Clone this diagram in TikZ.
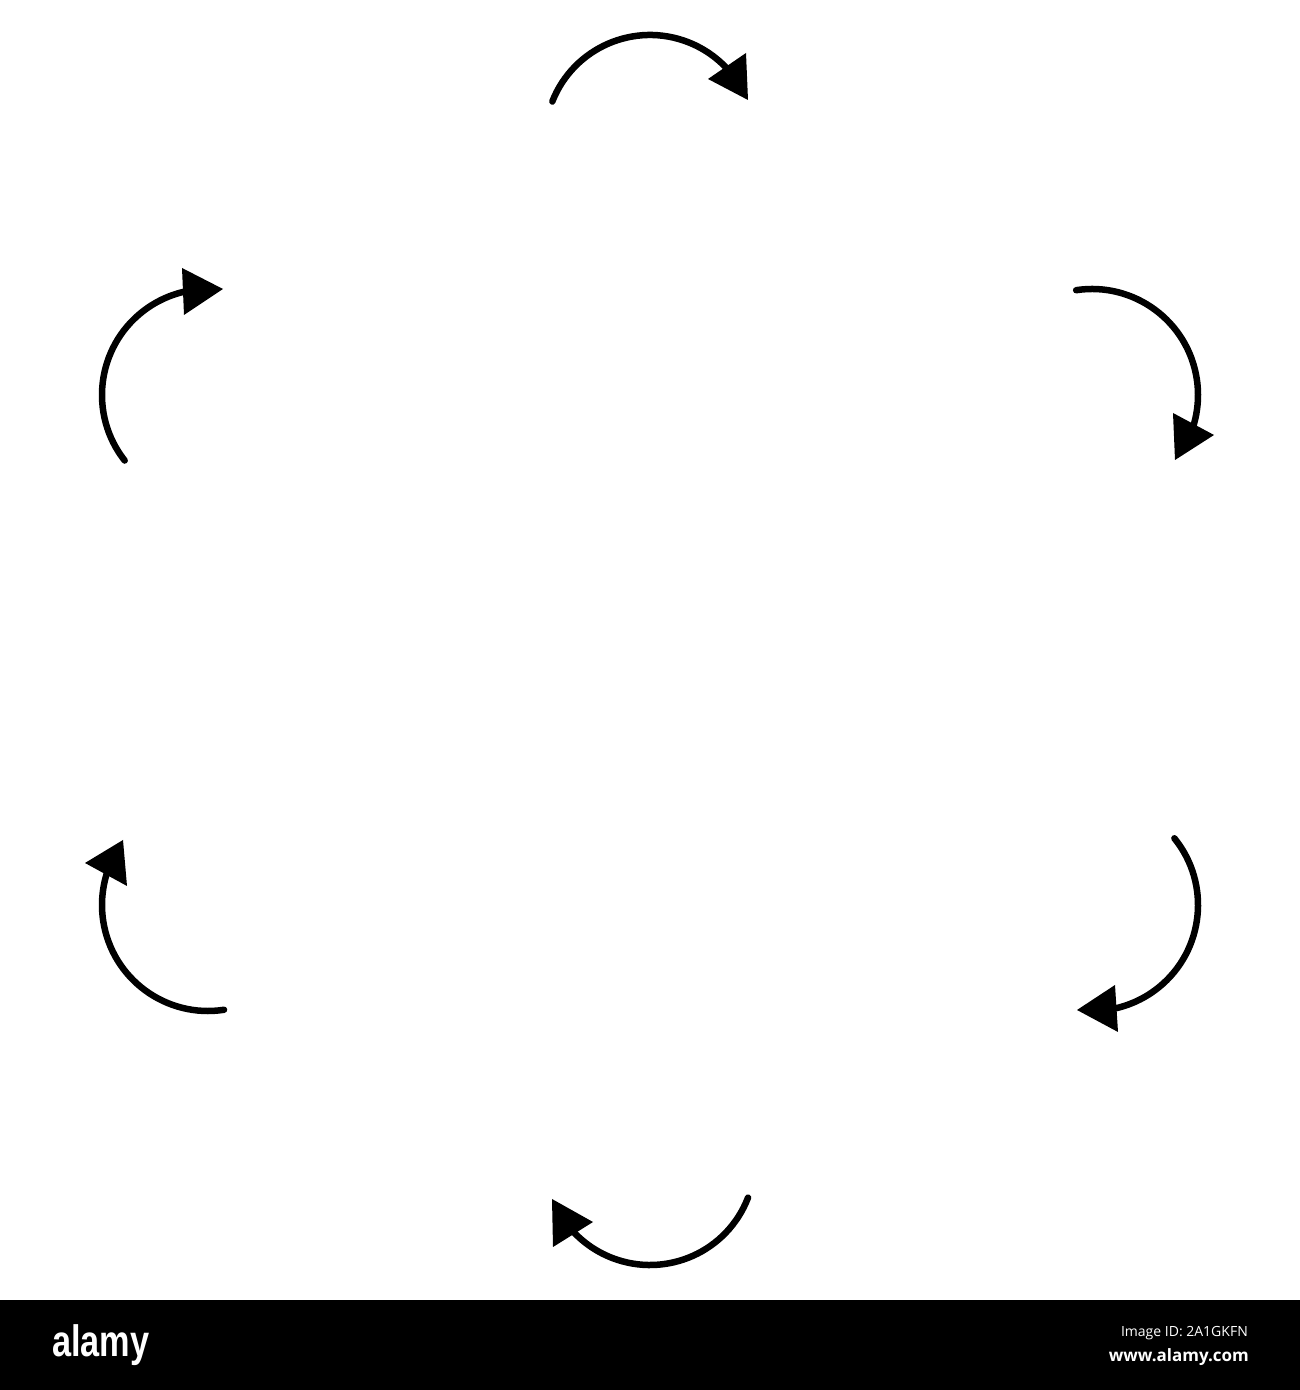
\documentclass[tikz,border=0pt]{standalone}
\usepackage{fontspec}
\newfontfamily\alamyfont[FakeStretch=0.78]{Liberation Sans}
\newfontfamily\idfont{Open Sans}
\begin{document}
\begin{tikzpicture}[x=1pt,y=1pt,
  arcline/.style={line width=6.5pt, line cap=round, black},
  head/.style={fill=black},
  bannertext/.style={text=white, inner sep=0pt}]
\useasboundingbox (0,0) rectangle (1300,1390);
\fill[white] (0,0) rectangle (1300,1390);
% arc centres
\coordinate (c1) at (650,1250);
\coordinate (c2) at (1092,995);
\coordinate (c3) at (1092,485);
\coordinate (c4) at (650,230);
\coordinate (c5) at (208,485);
\coordinate (c6) at (208,995);
% top
\draw[arcline] ([shift={(158.5:105)}]c1) arc[start angle=158.5, end angle=40, radius=105];
\fill[head] (746,1337) -- (748,1290) -- (708,1311) -- cycle;
% upper right
\draw[arcline] ([shift={(98.6:106)}]c2) arc[start angle=98.6, end angle=-25, radius=106];
\fill[head] (1173,977) -- (1175,930) -- (1214,955) -- cycle;
% lower right
\draw[arcline] ([shift={(39:106)}]c3) arc[start angle=39, end angle=-88, radius=106];
\fill[head] (1115,405) -- (1118,358) -- (1077,380) -- cycle;
% bottom
\draw[arcline] ([shift={(-21:105)}]c4) arc[start angle=-21, end angle=-140, radius=105];
\fill[head] (552,191) -- (553,143) -- (593,168) -- cycle;
% lower left
\draw[arcline] ([shift={(-81.3:106)}]c5) arc[start angle=-81.3, end angle=-205, radius=106];
\fill[head] (123,550) -- (127,504) -- (85,527) -- cycle;
% upper left
\draw[arcline] ([shift={(218.2:106)}]c6) arc[start angle=218.2, end angle=95, radius=106];
\fill[head] (182,1122) -- (184,1075) -- (223,1101) -- cycle;
% banner
\fill[black] (0,0) rectangle (1300,90);
\node[bannertext, anchor=base west] (logo) at (52,33) {\alamyfont\bfseries\fontsize{44}{44}\selectfont alamy};
\node[bannertext, anchor=base east] (imgid) at (1248,53) {\idfont\fontsize{14}{14}\selectfont Image ID: 2A1GKFN};
\node[bannertext, anchor=base east] (url) at (1249,28) {\idfont\bfseries\fontsize{17}{17}\selectfont www.alamy.com};
\end{tikzpicture}
\end{document}
